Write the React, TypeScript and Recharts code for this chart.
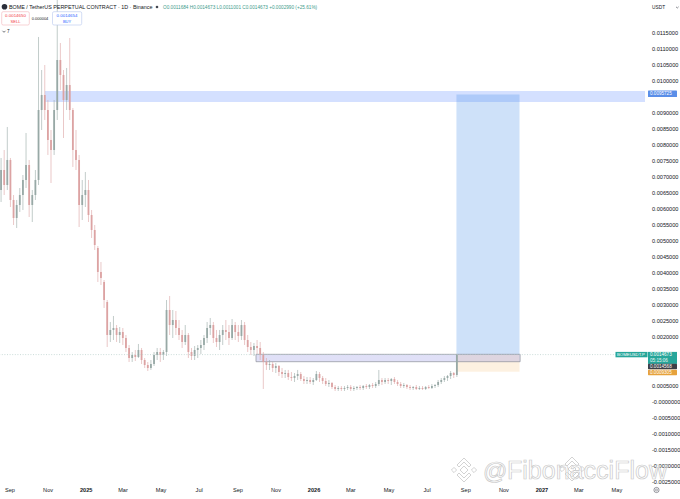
import React from 'react';
import { ComposedChart, Bar, XAxis, YAxis, ReferenceArea, ReferenceLine } from 'recharts';

// ---------- data ----------
const startDate = '2024-08-17'; // first 5-day candle
const stepDays = 5;
const axisOrigin = '2024-09-01';

const opens = [
  0.006595, 0.007218, 0.006751, 0.007530, 0.006284, 0.005723, 0.006128, 0.006439, 0.006907, 0.007374,
  0.006128, 0.006439, 0.006907, 0.009087, 0.009555, 0.009087, 0.008153, 0.007841, 0.009087, 0.010645,
  0.010178, 0.009399, 0.009866, 0.009087, 0.007841, 0.007530, 0.006128, 0.006439, 0.006595, 0.005816,
  0.005349, 0.004788, 0.004041, 0.003729, 0.003106, 0.002078, 0.002234, 0.002296, 0.002078, 0.002171,
  0.001984, 0.001673, 0.001361, 0.001455, 0.001393, 0.001611, 0.001299, 0.001143, 0.001050, 0.001174,
  0.001455, 0.001548, 0.001455, 0.001548, 0.002857, 0.002389, 0.002545, 0.002296, 0.002078, 0.001860,
  0.002078, 0.001548, 0.001424, 0.001611, 0.001673, 0.001766, 0.001984, 0.002296, 0.002389, 0.001984,
  0.001860, 0.002078, 0.002234, 0.002171, 0.001984, 0.002389, 0.002171, 0.002047, 0.002389, 0.001922,
  0.001704, 0.001611, 0.001735, 0.001673, 0.001455, 0.001237, 0.001143, 0.001174, 0.001050, 0.001112,
  0.000925, 0.000863, 0.000894, 0.000769, 0.000738, 0.000801, 0.000863, 0.000707, 0.000645, 0.000676,
  0.000614, 0.000676, 0.000863, 0.000738, 0.000645, 0.000551, 0.000583, 0.000458, 0.000396, 0.000427,
  0.000396, 0.000427, 0.000458, 0.000396, 0.000427, 0.000458, 0.000427, 0.000489, 0.000458, 0.000520,
  0.000489, 0.000551, 0.000676, 0.000614, 0.000676, 0.000645, 0.000707, 0.000614, 0.000551, 0.000489,
  0.000520, 0.000458, 0.000427, 0.000458, 0.000396, 0.000427, 0.000396, 0.000458, 0.000427, 0.000489,
  0.000520, 0.000614, 0.000676, 0.000738, 0.000801, 0.000894, 0.000832,
];
const highs = [
  0.007592, 0.007841, 0.008558, 0.007592, 0.006439, 0.006284, 0.006657, 0.007062, 0.008371, 0.007530,
  0.006595, 0.007218, 0.011362, 0.010333, 0.010489, 0.009399, 0.008464, 0.009399, 0.012670, 0.011175,
  0.010333, 0.010396, 0.011330, 0.009150, 0.008464, 0.007686, 0.006907, 0.007156, 0.006907, 0.005972,
  0.005505, 0.004851, 0.004352, 0.003791, 0.003168, 0.002483, 0.002670, 0.002389, 0.002327, 0.002296,
  0.002078, 0.001766, 0.001548, 0.001611, 0.001798, 0.001673, 0.001361, 0.001237, 0.001299, 0.001548,
  0.001673, 0.001673, 0.001611, 0.003168, 0.003293, 0.002857, 0.002826, 0.002545, 0.002234, 0.002389,
  0.002140, 0.001673, 0.001735, 0.001766, 0.001922, 0.002078, 0.002483, 0.002608, 0.002483, 0.002234,
  0.002234, 0.002389, 0.002545, 0.002389, 0.002576, 0.002483, 0.002389, 0.002545, 0.002483, 0.002078,
  0.001860, 0.001829, 0.001922, 0.001860, 0.001548, 0.001361, 0.001299, 0.001237, 0.001206, 0.001143,
  0.001050, 0.000988, 0.000988, 0.000925, 0.000894, 0.000988, 0.000925, 0.000801, 0.000769, 0.000769,
  0.000738, 0.000956, 0.000925, 0.000801, 0.000738, 0.000676, 0.000614, 0.000520, 0.000489, 0.000489,
  0.000489, 0.000520, 0.000520, 0.000489, 0.000489, 0.000520, 0.000520, 0.000551, 0.000551, 0.000583,
  0.000614, 0.000988, 0.000738, 0.000738, 0.000738, 0.000738, 0.000769, 0.000676, 0.000614, 0.000583,
  0.000551, 0.000520, 0.000489, 0.000520, 0.000489, 0.000489, 0.000489, 0.000520, 0.000551, 0.000551,
  0.000676, 0.000738, 0.000801, 0.000832, 0.000956, 0.000925, 0.0014673,
];
const lows = [
  0.006221, 0.006439, 0.006595, 0.006065, 0.005505, 0.005411, 0.005910, 0.005972, 0.006657, 0.005754,
  0.005598, 0.006284, 0.006751, 0.008464, 0.008776, 0.007686, 0.006813, 0.007686, 0.008776, 0.009711,
  0.008215, 0.009087, 0.008776, 0.007312, 0.007218, 0.005442, 0.005660, 0.006065, 0.005598, 0.005100,
  0.004726, 0.003729, 0.003636, 0.002919, 0.001704, 0.001860, 0.001922, 0.001860, 0.001829, 0.001766,
  0.001548, 0.001237, 0.001237, 0.001268, 0.001361, 0.001174, 0.001050, 0.000956, 0.000988, 0.001112,
  0.001299, 0.001237, 0.001299, 0.001424, 0.002078, 0.001984, 0.002078, 0.001922, 0.001673, 0.001766,
  0.001361, 0.001299, 0.001299, 0.001361, 0.001486, 0.001611, 0.001829, 0.002078, 0.001829, 0.001704,
  0.001611, 0.001766, 0.001922, 0.001766, 0.001922, 0.001922, 0.001860, 0.001922, 0.001766, 0.001548,
  0.001455, 0.001424, 0.001486, 0.001299, 0.000396, 0.000988, 0.000988, 0.000925, 0.000894, 0.000801,
  0.000738, 0.000738, 0.000676, 0.000645, 0.000614, 0.000676, 0.000645, 0.000551, 0.000551, 0.000551,
  0.000520, 0.000645, 0.000614, 0.000551, 0.000489, 0.000458, 0.000396, 0.000333, 0.000333, 0.000333,
  0.000333, 0.000364, 0.000333, 0.000333, 0.000364, 0.000364, 0.000364, 0.000396, 0.000396, 0.000427,
  0.000427, 0.000489, 0.000520, 0.000551, 0.000551, 0.000520, 0.000551, 0.000489, 0.000427, 0.000427,
  0.000396, 0.000364, 0.000364, 0.000364, 0.000364, 0.000364, 0.000364, 0.000396, 0.000396, 0.000427,
  0.000458, 0.000551, 0.000614, 0.000645, 0.000707, 0.000738, 0.000769,
];
const closes = [
  0.007218, 0.006751, 0.007530, 0.006284, 0.005723, 0.006128, 0.006439, 0.006907, 0.007374, 0.006128,
  0.006439, 0.006907, 0.009087, 0.009555, 0.009087, 0.008153, 0.007841, 0.009087, 0.010645, 0.010178,
  0.009399, 0.009866, 0.009087, 0.007841, 0.007530, 0.006128, 0.006439, 0.006595, 0.005816, 0.005349,
  0.004882, 0.004041, 0.003854, 0.003168, 0.002078, 0.002234, 0.002296, 0.002078, 0.002171, 0.001984,
  0.001673, 0.001361, 0.001455, 0.001393, 0.001611, 0.001299, 0.001143, 0.001050, 0.001174, 0.001455,
  0.001548, 0.001455, 0.001548, 0.002857, 0.002389, 0.002545, 0.002296, 0.002078, 0.001860, 0.002078,
  0.001548, 0.001424, 0.001611, 0.001673, 0.001766, 0.001984, 0.002296, 0.002389, 0.001984, 0.001860,
  0.002078, 0.002234, 0.002171, 0.001984, 0.002389, 0.002171, 0.002047, 0.002389, 0.001922, 0.001704,
  0.001611, 0.001735, 0.001673, 0.001455, 0.001237, 0.001143, 0.001174, 0.001050, 0.001112, 0.000925,
  0.000863, 0.000894, 0.000769, 0.000738, 0.000801, 0.000863, 0.000707, 0.000645, 0.000676, 0.000614,
  0.000676, 0.000863, 0.000738, 0.000645, 0.000551, 0.000583, 0.000458, 0.000396, 0.000427, 0.000396,
  0.000427, 0.000458, 0.000396, 0.000427, 0.000458, 0.000427, 0.000489, 0.000458, 0.000520, 0.000489,
  0.000551, 0.000676, 0.000614, 0.000676, 0.000645, 0.000707, 0.000614, 0.000551, 0.000489, 0.000520,
  0.000458, 0.000427, 0.000458, 0.000396, 0.000427, 0.000396, 0.000458, 0.000427, 0.000489, 0.000520,
  0.000614, 0.000676, 0.000738, 0.000801, 0.000894, 0.000832, 0.0014673,
];

const monthTickDates = [
  '2024-09-01', '2024-11-01', '2025-01-01', '2025-03-01', '2025-05-01', '2025-07-01',
  '2025-09-01', '2025-11-01', '2026-01-01', '2026-03-01', '2026-05-01', '2026-07-01',
  '2026-09-01', '2026-11-01', '2027-01-01', '2027-03-01', '2027-05-01',
];
const monthTickLabels = [
  'Sep', 'Nov', '2025', 'Mar', 'May', 'Jul', 'Sep', 'Nov', '2026', 'Mar', 'May', 'Jul',
  'Sep', 'Nov', '2027', 'Mar', 'May',
];
const priceTicks = [
  0.0115, 0.011, 0.0105, 0.01, 0.009, 0.0085, 0.008, 0.0075, 0.007, 0.0065, 0.006, 0.0055,
  0.005, 0.0045, 0.004, 0.0035, 0.003, 0.0025, 0.002, 0.0005, 0, -0.0005, -0.001, -0.0015,
  -0.002, -0.0025,
];

const xDomainDates = ['2024-08-16', '2027-06-15'];
const yDomain: [number, number] = [-0.0025639, 0.012514];

const lastPrice = 0.0014673;
const markPrice = 0.0014568;
const targetPrice = 0.0095725;
const stopPrice = 0.0009305;
const positionStart = '2026-08-17';
const positionEnd = '2026-11-26';
const bandZone = { top: 0.00968, bottom: 0.009337, start: '2024-10-27', end: '2027-07-30' };
const boxZone = { top: 0.001476, bottom: 0.001246, start: '2025-09-30', end: '2026-11-27' };

// ---------- helpers ----------
const DAY = 86400000;
const toUTC = (s: string) => {
  const [y, m, d] = s.split('-').map(Number);
  return Date.UTC(y, m - 1, d);
};
const dayOf = (s: string) => Math.round((toUTC(s) - toUTC(axisOrigin)) / DAY);
const startDay = dayOf(startDate);

const candles = opens.map((o, i) => ({
  t: startDay + i * stepDays,
  o,
  h: highs[i],
  l: lows[i],
  c: closes[i],
  range: [lows[i], highs[i]],
}));

const UP = '#98a9a6';
const DOWN = '#dca3a3';
const FONT = '"Liberation Sans", Arial, sans-serif';
const TXT = '#131722';

const Candle = (props: any) => {
  const { x, y, width, height, payload } = props;
  if (!payload || x == null || y == null) return null;
  const { o, h, l, c } = payload;
  const top = Math.min(y, y + height);
  const full = Math.abs(height);
  const cx = x + width / 2;
  const span = h - l || 1e-12;
  const yOf = (v: number) => top + ((h - v) / span) * full;
  const color = c >= o ? UP : DOWN;
  const bTop = yOf(Math.max(o, c));
  const bBot = yOf(Math.min(o, c));
  return (
    <g>
      <line x1={cx} x2={cx} y1={top} y2={top + full} stroke={color} strokeWidth={0.6} />
      <rect x={cx - 0.9} y={bTop} width={1.8} height={Math.max(0.7, bBot - bTop)} fill={color} />
    </g>
  );
};

const XTick = (props: any) => {
  const { x, y, payload } = props;
  const idx = monthTickDates.findIndex((d) => dayOf(d) === payload.value);
  const label = monthTickLabels[idx] ?? '';
  const bold = /^\d{4}$/.test(label);
  return (
    <text x={x} y={y} textAnchor="middle" dominantBaseline="central" fontFamily={FONT}
      fontSize={5.6} fontWeight={bold ? 700 : 400} fill={TXT}>
      {label}
    </text>
  );
};

const fmtPrice = (v: number) => (Math.abs(v) < 1e-12 ? '-0.0000000' : v.toFixed(7));

const YTick = (props: any) => {
  const { x, y, payload } = props;
  return (
    <text x={x} y={y} textAnchor="start" dominantBaseline="central" fontFamily={FONT}
      fontSize={5.6} fill={TXT}>
      {fmtPrice(payload.value)}
    </text>
  );
};

const AxisTag = (p: any) => {
  const { viewBox, bg, lines, dy = 0, h = 6.4, fg = '#fff' } = p;
  if (!viewBox) return null;
  const x0 = viewBox.x + viewBox.width + 3;
  const yc = viewBox.y + dy;
  return (
    <g>
      <rect x={x0} y={yc - h / 2} width={29} height={h} fill={bg} rx={0.6} />
      {lines.map((s: string, i: number) => (
        <text key={i} x={x0 + 2} y={yc + i * 5.6} dominantBaseline="central" fontFamily={FONT}
          fontSize={4.6} fill={fg}>{s}</text>
      ))}
    </g>
  );
};

const LastTag = (p: any) => {
  const { viewBox } = p;
  if (!viewBox) return null;
  const xr = viewBox.x + viewBox.width;
  const yc = viewBox.y;
  return (
    <g>
      <rect x={xr - 29.5} y={yc - 2.7} width={32} height={5.4} fill="#26a69a" />
      <text x={xr - 28} y={yc} dominantBaseline="central" fontFamily={FONT} fontSize={4.3} fill="#fff">
        BOMEUSDT.P
      </text>
      <rect x={xr + 3} y={yc - 2.7} width={29} height={12} fill="#26a69a" />
      <text x={xr + 5} y={yc} dominantBaseline="central" fontFamily={FONT} fontSize={4.6} fill="#fff">
        {lastPrice.toFixed(7)}
      </text>
      <text x={xr + 5} y={yc + 5.8} dominantBaseline="central" fontFamily={FONT} fontSize={4.6} fill="#e9f6f4">
        05:15:06
      </text>
    </g>
  );
};

const Diamond = ({ cx, cy }: { cx: number; cy: number }) => (
  <g fill="rgba(255,255,255,0.5)" stroke="#c8c8c8" strokeWidth={0.8}>
    <polygon points={`${cx},${cy - 4} ${cx + 4},${cy} ${cx},${cy + 4} ${cx - 4},${cy}`} />
    <polygon points={`${cx - 10},${cy - 2.6} ${cx - 7.4},${cy} ${cx - 10},${cy + 2.6} ${cx - 12.6},${cy}`} />
    <polygon points={`${cx + 10},${cy - 2.6} ${cx + 12.6},${cy} ${cx + 10},${cy + 2.6} ${cx + 7.4},${cy}`} />
    <polygon points={`${cx - 7},${cy - 5} ${cx},${cy - 12} ${cx + 7},${cy - 5} ${cx + 5},${cy - 3} ${cx},${cy - 8} ${cx - 5},${cy - 3}`} />
    <polygon points={`${cx - 7},${cy + 5} ${cx},${cy + 12} ${cx + 7},${cy + 5} ${cx + 5},${cy + 3} ${cx},${cy + 8} ${cx - 5},${cy + 3}`} />
  </g>
);

export default function App() {
  const xTicks = monthTickDates.map(dayOf);
  return (
    <div style={{ position: 'fixed', left: 0, top: 0, width: 680, height: 499, background: '#fff', overflow: 'hidden' }}>
      <ComposedChart width={680} height={499} data={candles} margin={{ top: 0, right: 0, bottom: 0, left: 0 }}>
        <XAxis dataKey="t" type="number" scale="linear" domain={xDomainDates.map(dayOf)} allowDataOverflow
          ticks={xTicks} interval={0} tick={<XTick />} tickLine={false} axisLine={false} height={15}
          tickSize={0} tickMargin={5.5} />
        <YAxis orientation="right" type="number" domain={yDomain} allowDataOverflow ticks={priceTicks}
          interval={0} tick={<YTick />} tickLine={false} axisLine={false} width={35} tickSize={0} tickMargin={7} />

        <ReferenceArea x1={dayOf(bandZone.start)} x2={dayOf(bandZone.end)} y1={bandZone.bottom} y2={bandZone.top}
          ifOverflow="hidden" fill="rgb(41,98,255)" fillOpacity={0.2} stroke="none" />
        <ReferenceArea x1={dayOf(positionStart)} x2={dayOf(positionEnd)} y1={lastPrice} y2={targetPrice}
          ifOverflow="hidden" fill="rgb(64,140,230)" fillOpacity={0.26} stroke="none" />
        <ReferenceArea x1={dayOf(positionStart)} x2={dayOf(positionEnd)} y1={stopPrice} y2={lastPrice}
          ifOverflow="hidden" fill="rgb(242,170,70)" fillOpacity={0.16} stroke="none" />
        <ReferenceArea x1={dayOf(boxZone.start)} x2={dayOf(boxZone.end)} y1={boxZone.bottom} y2={boxZone.top}
          ifOverflow="hidden" fill="rgb(130,130,225)" fillOpacity={0.25} stroke="#8d8f99" strokeWidth={0.7} />

        <Bar dataKey="range" shape={<Candle />} isAnimationActive={false} barSize={2} />

        <ReferenceLine y={lastPrice} stroke="#b4cdc8" strokeDasharray="1 1.6" strokeWidth={0.7}
          label={<LastTag />} />
        <ReferenceLine y={markPrice} stroke="none" label={<AxisTag bg="#3c3f47" lines={[markPrice.toFixed(7)]} dy={11.5} h={5.4} />} />
        <ReferenceLine y={stopPrice} stroke="none" label={<AxisTag bg="#e6a23c" lines={[stopPrice.toFixed(7)]} dy={0.6} h={5.4} />} />
        <ReferenceLine y={targetPrice} stroke="none" label={<AxisTag bg="#5a8ee8" lines={[targetPrice.toFixed(7)]} dy={-0.6} h={6.4} />} />
      </ComposedChart>

      <svg width={680} height={499} style={{ position: 'absolute', left: 0, top: 0, pointerEvents: 'none' }}>
        {/* header */}
        <circle cx={4.5} cy={6.8} r={2.8} fill="#2a2e39" />
        <text x={9} y={7} dominantBaseline="central" fontFamily={FONT} fontSize={5.4} fill={TXT}>
          BOME / TetherUS PERPETUAL CONTRACT · 1D · Binance
        </text>
        <circle cx={157} cy={7} r={1.3} fill="#434651" />
        <text x={163} y={7} dominantBaseline="central" fontFamily={FONT} fontSize={4.7} fill="#3f9c8c">
          O0.0011684 H0.0014673 L0.0011001 C0.0014673 +0.0002990 (+25.61%)
        </text>
        <rect x={1.7} y={11.7} width={27.6} height={13.3} rx={1.5} fill="#fff" stroke="#f3b5bb" strokeWidth={0.6} />
        <text x={15.5} y={15.8} textAnchor="middle" dominantBaseline="central" fontFamily={FONT} fontSize={4.4} fill="#f23645">0.0014650</text>
        <text x={15.5} y={21} textAnchor="middle" dominantBaseline="central" fontFamily={FONT} fontSize={4} fill="#f23645">SELL</text>
        <text x={40} y={18.5} textAnchor="middle" dominantBaseline="central" fontFamily={FONT} fontSize={4} fill={TXT}>0.000004</text>
        <rect x={52.5} y={11.7} width={29.2} height={13.3} rx={1.5} fill="#fff" stroke="#b7c7ef" strokeWidth={0.6} />
        <text x={67} y={15.8} textAnchor="middle" dominantBaseline="central" fontFamily={FONT} fontSize={4.4} fill="#2962ff">0.0014654</text>
        <text x={67} y={21} textAnchor="middle" dominantBaseline="central" fontFamily={FONT} fontSize={4} fill="#2962ff">BUY</text>
        <polyline points="2.5,30.8 4,32.3 5.5,30.8" fill="none" stroke={TXT} strokeWidth={0.6} />
        <text x={7} y={31.8} dominantBaseline="central" fontFamily={FONT} fontSize={4.6} fill={TXT}>7</text>

        {/* top right */}
        <text x={652} y={7.5} dominantBaseline="central" fontFamily={FONT} fontSize={4.8} fill={TXT}>USDT</text>
        <polyline points="676,6.8 677.3,8 678.6,6.8" fill="none" stroke={TXT} strokeWidth={0.5} />

        {/* gear */}
        <circle cx={656.5} cy={490} r={2.6} fill="none" stroke="#50535e" strokeWidth={0.6} />
        <circle cx={656.5} cy={490} r={1} fill="none" stroke="#50535e" strokeWidth={0.5} />

        {/* watermark */}
        <Diamond cx={464} cy={470} />
        <Diamond cx={572} cy={469} />
        <text x={483} y={479} fontFamily={FONT} fontSize={24} fill="rgba(255,255,255,0.45)" stroke="#c8c8c8" strokeWidth={0.7}>@</text>
        <text x={507} y={479} fontFamily={FONT} fontSize={26} textLength={160} lengthAdjust="spacingAndGlyphs"
          fill="rgba(255,255,255,0.45)" stroke="#c8c8c8" strokeWidth={0.7}>FibonacciFlow</text>
      </svg>
    </div>
  );
}
